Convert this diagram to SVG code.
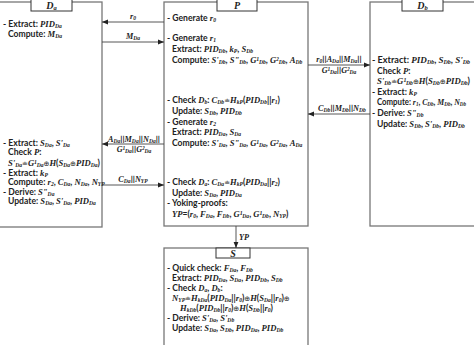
<svg xmlns="http://www.w3.org/2000/svg" width="474" height="345" viewBox="0 0 474 345">
<style>
text{font-family:Lato,"Liberation Sans",Arial,sans-serif;font-weight:bold;font-size:8.6px;fill:#222}
.v{font-family:"Liberation Serif",serif;font-style:italic}
.s{font-family:"Liberation Serif",serif;font-style:italic;font-size:5.6px;baseline-shift:-1.2px}
.o{font-family:"DejaVu Sans",sans-serif;font-weight:normal;font-size:7px}
.lbl{font-size:8.2px}
.box{fill:#fff;stroke:#777;stroke-width:1.3}
.tag{fill:#fff;stroke:#333;stroke-width:1}
.ttl{font-family:"Liberation Serif",serif;font-style:italic;font-size:10px;text-anchor:middle}
.ttl .s{font-size:6.5px}
.ln{stroke:#444;stroke-width:0.9;fill:none}
.mid{text-anchor:middle}
</style>
<defs>
<marker id="ah" viewBox="0 0 10 10" refX="10" refY="5" markerWidth="6" markerHeight="6" orient="auto" markerUnits="userSpaceOnUse">
<path d="M0,1 L10,5 L0,9 z" fill="#222"/>
</marker>
</defs>

<g id="Da">
<rect class="box" x="-2" y="2" width="104" height="225"/>
<rect class="tag" x="31" y="-1" width="41" height="12"/>
<text class="ttl" x="51.5" y="9">D<tspan class="s">a</tspan></text>
<text x="3" y="27">- Extract: <tspan class="v">PID</tspan><tspan class="s">Da</tspan></text>
<text x="8" y="37">Compute: <tspan class="v">M</tspan><tspan class="s">Da</tspan></text>
<text x="3" y="146">- Extract: <tspan class="v">S</tspan><tspan class="s">Da</tspan>, <tspan class="v">S'</tspan><tspan class="s">Da</tspan></text>
<text x="8" y="155">Check <tspan class="v">P</tspan>:</text>
<text x="8" y="166"><tspan class="v">S'</tspan><tspan class="s">Da</tspan><tspan class="o">≐</tspan><tspan class="v">G¹</tspan><tspan class="s">Da</tspan><tspan class="o">⊕</tspan><tspan class="v">H</tspan>(<tspan class="v">S</tspan><tspan class="s">Da</tspan><tspan class="o">⊕</tspan><tspan class="v">PID</tspan><tspan class="s">Da</tspan>)</text>
<text x="3" y="176">- Extract: <tspan class="v">k</tspan><tspan class="s">P</tspan></text>
<text x="8" y="185">Compute: <tspan class="v">r</tspan><tspan class="s">2</tspan>, <tspan class="v">C</tspan><tspan class="s">Da</tspan>, <tspan class="v">N</tspan><tspan class="s">Da</tspan>, <tspan class="v">N</tspan><tspan class="s">YP</tspan></text>
<text x="3" y="195">- Derive:  <tspan class="v">S"</tspan><tspan class="s">Da</tspan></text>
<text x="8" y="204">Update: <tspan class="v">S</tspan><tspan class="s">Da</tspan>, <tspan class="v">S'</tspan><tspan class="s">Da</tspan>, <tspan class="v">PID</tspan><tspan class="s">Da</tspan></text>
</g>

<g id="P">
<rect class="box" x="164" y="2" width="144" height="224"/>
<rect class="tag" x="217" y="-1" width="40" height="12"/>
<text class="ttl" x="237" y="9">P</text>
<text x="167" y="21">- Generate <tspan class="v">r</tspan><tspan class="s">0</tspan></text>
<text x="167" y="41">- Generate <tspan class="v">r</tspan><tspan class="s">1</tspan></text>
<text x="172" y="52">Extract: <tspan class="v">PID</tspan><tspan class="s">Db</tspan>, <tspan class="v">k</tspan><tspan class="s">P</tspan>, <tspan class="v">S</tspan><tspan class="s">Db</tspan></text>
<text x="172" y="63">Compute: <tspan class="v">S'</tspan><tspan class="s">Db</tspan>, <tspan class="v">S"</tspan><tspan class="s">Db</tspan>, <tspan class="v">G¹</tspan><tspan class="s">Db</tspan>, <tspan class="v">G²</tspan><tspan class="s">Db</tspan>, <tspan class="v">A</tspan><tspan class="s">Db</tspan></text>
<text x="167" y="103">- Check <tspan class="v">D</tspan><tspan class="s">b</tspan>: <tspan class="v">C</tspan><tspan class="s">Db</tspan><tspan class="o">≐</tspan><tspan class="v">H</tspan><tspan class="s">kP</tspan>(<tspan class="v">PID</tspan><tspan class="s">Db</tspan>||<tspan class="v">r</tspan><tspan class="s">1</tspan>)</text>
<text x="172" y="114">Update: <tspan class="v">S</tspan><tspan class="s">Db</tspan>, <tspan class="v">PID</tspan><tspan class="s">Db</tspan></text>
<text x="167" y="125">- Generate <tspan class="v">r</tspan><tspan class="s">2</tspan></text>
<text x="172" y="135">Extract: <tspan class="v">PID</tspan><tspan class="s">Da</tspan>, <tspan class="v">S</tspan><tspan class="s">Da</tspan></text>
<text x="172" y="146">Compute: <tspan class="v">S'</tspan><tspan class="s">Da</tspan>, <tspan class="v">S"</tspan><tspan class="s">Da</tspan>, <tspan class="v">G¹</tspan><tspan class="s">Da</tspan>, <tspan class="v">G²</tspan><tspan class="s">Da</tspan>, <tspan class="v">A</tspan><tspan class="s">Da</tspan></text>
<text x="167" y="185">- Check <tspan class="v">D</tspan><tspan class="s">a</tspan>: <tspan class="v">C</tspan><tspan class="s">Da</tspan><tspan class="o">≐</tspan><tspan class="v">H</tspan><tspan class="s">kP</tspan>(<tspan class="v">PID</tspan><tspan class="s">Da</tspan>||<tspan class="v">r</tspan><tspan class="s">2</tspan>)</text>
<text x="172" y="196">Update: <tspan class="v">S</tspan><tspan class="s">Da</tspan>, <tspan class="v">PID</tspan><tspan class="s">Da</tspan></text>
<text x="167" y="206">- Yoking-proofs:</text>
<text x="172" y="217"><tspan class="v">YP</tspan>=(<tspan class="v">r</tspan><tspan class="s">0</tspan>, <tspan class="v">F</tspan><tspan class="s">Da</tspan>, <tspan class="v">F</tspan><tspan class="s">Db</tspan>, <tspan class="v">G¹</tspan><tspan class="s">Da</tspan>, <tspan class="v">G¹</tspan><tspan class="s">Db</tspan>, <tspan class="v">N</tspan><tspan class="s">YP</tspan>)</text>
</g>

<g id="Db">
<rect class="box" x="370" y="2" width="106" height="224"/>
<rect class="tag" x="402" y="-1" width="41" height="12"/>
<text class="ttl" x="422.5" y="9">D<tspan class="s">b</tspan></text>
<text x="372" y="63" textLength="98" lengthAdjust="spacingAndGlyphs">- Extract: <tspan class="v">PID</tspan><tspan class="s">Db</tspan>, <tspan class="v">S</tspan><tspan class="s">Db</tspan>, <tspan class="v">S'</tspan><tspan class="s">Db</tspan></text>
<text x="377" y="74">Check <tspan class="v">P</tspan>:</text>
<text x="377" y="84" textLength="93" lengthAdjust="spacingAndGlyphs"><tspan class="v">S'</tspan><tspan class="s">Db</tspan><tspan class="o">≐</tspan><tspan class="v">G¹</tspan><tspan class="s">Db</tspan><tspan class="o">⊕</tspan><tspan class="v">H</tspan>(<tspan class="v">S</tspan><tspan class="s">Db</tspan><tspan class="o">⊕</tspan><tspan class="v">PID</tspan><tspan class="s">Db</tspan>)</text>
<text x="372" y="95">- Extract: <tspan class="v">k</tspan><tspan class="s">P</tspan></text>
<text x="377" y="105" textLength="89" lengthAdjust="spacingAndGlyphs">Compute: <tspan class="v">r</tspan><tspan class="s">1</tspan>, <tspan class="v">C</tspan><tspan class="s">Db</tspan>, <tspan class="v">M</tspan><tspan class="s">Db</tspan>, <tspan class="v">N</tspan><tspan class="s">Db</tspan></text>
<text x="372" y="116">- Derive: <tspan class="v">S"</tspan><tspan class="s">Db</tspan></text>
<text x="377" y="127">Update: <tspan class="v">S</tspan><tspan class="s">Db</tspan>, <tspan class="v">S'</tspan><tspan class="s">Db</tspan>, <tspan class="v">PID</tspan><tspan class="s">Db</tspan></text>
</g>

<g id="S">
<rect class="box" x="164" y="248" width="144" height="100"/>
<rect class="tag" x="216" y="248" width="34" height="10"/>
<text class="ttl" x="233" y="256.5">S</text>
<text x="167" y="271">- Quick check: <tspan class="v">F</tspan><tspan class="s">Da</tspan>, <tspan class="v">F</tspan><tspan class="s">Db</tspan></text>
<text x="172" y="281">Extract: <tspan class="v">PID</tspan><tspan class="s">Da</tspan>, <tspan class="v">S</tspan><tspan class="s">Da</tspan>, <tspan class="v">PID</tspan><tspan class="s">Db</tspan>, <tspan class="v">S</tspan><tspan class="s">Db</tspan></text>
<text x="167" y="291">- Check <tspan class="v">D</tspan><tspan class="s">a</tspan>, <tspan class="v">D</tspan><tspan class="s">b</tspan>:</text>
<text x="172" y="301"><tspan class="v">N</tspan><tspan class="s">YP</tspan><tspan class="o">≐</tspan><tspan class="v">H</tspan><tspan class="s">kDa</tspan>(<tspan class="v">PID</tspan><tspan class="s">Da</tspan>||<tspan class="v">r</tspan><tspan class="s">0</tspan>)<tspan class="o">⊕</tspan><tspan class="v">H</tspan>(<tspan class="v">S</tspan><tspan class="s">Da</tspan>||<tspan class="v">r</tspan><tspan class="s">0</tspan>)<tspan class="o">⊕</tspan></text>
<text x="180" y="311"><tspan class="v">H</tspan><tspan class="s">kDb</tspan>(<tspan class="v">PID</tspan><tspan class="s">Db</tspan>||<tspan class="v">r</tspan><tspan class="s">0</tspan>)<tspan class="o">⊕</tspan><tspan class="v">H</tspan>(<tspan class="v">S</tspan><tspan class="s">Db</tspan>||<tspan class="v">r</tspan><tspan class="s">0</tspan>)</text>
<text x="167" y="321">- Derive: <tspan class="v">S'</tspan><tspan class="s">Da</tspan>, <tspan class="v">S'</tspan><tspan class="s">Db</tspan></text>
<text x="172" y="331">Update: <tspan class="v">S</tspan><tspan class="s">Da</tspan>, <tspan class="v">S</tspan><tspan class="s">Db</tspan>, <tspan class="v">PID</tspan><tspan class="s">Da</tspan>, <tspan class="v">PID</tspan><tspan class="s">Db</tspan></text>
</g>

<g id="connectors">
<line class="ln" x1="164" y1="22" x2="102" y2="22" marker-end="url(#ah)"/>
<text class="lbl mid" x="133" y="19"><tspan class="v">r</tspan><tspan class="s">0</tspan></text>
<line class="ln" x1="102" y1="42" x2="164" y2="42" marker-end="url(#ah)"/>
<text class="lbl mid" x="133" y="39"><tspan class="v">M</tspan><tspan class="s">Da</tspan></text>
<line class="ln" x1="308" y1="65" x2="370" y2="65" marker-end="url(#ah)"/>
<text class="lbl mid" x="339" y="62"><tspan class="v">r</tspan><tspan class="s">0</tspan>||<tspan class="v">A</tspan><tspan class="s">Da</tspan>||<tspan class="v">M</tspan><tspan class="s">Da</tspan>||</text>
<text class="lbl mid" x="339" y="73"><tspan class="v">G¹</tspan><tspan class="s">Da</tspan>||<tspan class="v">G²</tspan><tspan class="s">Da</tspan></text>
<line class="ln" x1="370" y1="114" x2="308" y2="114" marker-end="url(#ah)"/>
<text class="lbl mid" x="342" y="111"><tspan class="v">C</tspan><tspan class="s">Db</tspan>||<tspan class="v">M</tspan><tspan class="s">Db</tspan>||<tspan class="v">N</tspan><tspan class="s">Db</tspan></text>
<line class="ln" x1="164" y1="144" x2="102" y2="144" marker-end="url(#ah)"/>
<text class="lbl mid" x="134" y="142"><tspan class="v">A</tspan><tspan class="s">Da</tspan>||<tspan class="v">M</tspan><tspan class="s">Da</tspan>||<tspan class="v">N</tspan><tspan class="s">Da</tspan>||</text>
<text class="lbl mid" x="134" y="152"><tspan class="v">G¹</tspan><tspan class="s">Da</tspan>||<tspan class="v">G²</tspan><tspan class="s">Da</tspan></text>
<line class="ln" x1="102" y1="185" x2="164" y2="185" marker-end="url(#ah)"/>
<text class="lbl mid" x="133" y="182"><tspan class="v">C</tspan><tspan class="s">Da</tspan>||<tspan class="v">N</tspan><tspan class="s">YP</tspan></text>
<line class="ln" x1="236" y1="226" x2="236" y2="248" marker-end="url(#ah)"/>
<text class="lbl" x="239" y="240"><tspan class="v">YP</tspan></text>
</g>
</svg>
